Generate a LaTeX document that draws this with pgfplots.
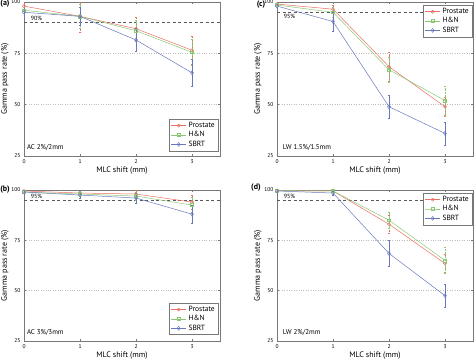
\documentclass[border=0pt]{standalone}
\usepackage{fontspec}
\setmainfont{PT Sans}
\usepackage{pgfplots}
\pgfplotsset{compat=1.18}
\definecolor{cPro}{RGB}{232,112,100}
\definecolor{cHN}{RGB}{140,200,115}
\definecolor{cSB}{RGB}{105,120,190}
\definecolor{frame}{RGB}{120,120,120}
\pgfplotsset{
  panel/.style={
    scale only axis, width=196pt, height=154pt,
    xmin=0, xmax=3.5, ymin=25, ymax=100,
    xtick={0,1,2,3}, ytick={25,50,75,100},
    axis line style={frame, line width=0.5pt},
    tick style={frame, line width=0.4pt},
    major tick length=2pt,
    ymajorgrids, grid style={dotted, gray!50, line width=0.4pt},
    tick label style={font=\fontsize{5.5}{6}\selectfont},
    /pgf/number format/assume math mode=true,
    xlabel={MLC shift (mm)}, ylabel={Gamma pass rate (\%)},
    label style={font=\fontsize{8}{9}\selectfont},
    xlabel style={yshift=4pt},
    ylabel style={yshift=-4pt},
    legend style={font=\fontsize{7.5}{8.5}\selectfont, draw=frame, line width=0.5pt,
      inner sep=1pt, row sep=-1.5pt, cells={anchor=west}},
    legend cell align=left,
    legend image code/.code={
      \draw[mark repeat=2,mark phase=2] plot coordinates {(0cm,0cm)(0.27cm,0cm)(0.54cm,0cm)};},
    every axis plot/.append style={line width=0.5pt, mark size=1.6pt, mark options={solid, line width=0.45pt}},
  },
  pro/.style={color=cPro, mark=o, error bars/.cd, y dir=both, y explicit,
     error bar style={cPro, line width=0.4pt, densely dotted}, error mark options={cPro, mark size=1.3pt, rotate=90, solid}},
  hn/.style={color=cHN, mark=square, mark size=1.4pt, error bars/.cd, y dir=both, y explicit,
     error bar style={cHN, line width=0.4pt, densely dotted}, error mark options={cHN, mark size=1.3pt, rotate=90, solid}},
  sb/.style={color=cSB, mark=diamond, mark size=2pt, error bars/.cd, y dir=both, y explicit,
     error bar style={cSB, line width=0.4pt}, error mark options={cSB, mark size=1.3pt, rotate=90, solid}},
}
\begin{document}
\begin{tikzpicture}
\path[use as bounding box] (0,0) rectangle (474pt,-362pt);
% ---------------- (a)
\begin{axis}[panel, name=A, at={(24pt,-2pt)}, anchor=north west,
  legend style={at={(0.99,0.032)}, anchor=south east}]
\addplot[black!65, dashed, line width=0.5pt, forget plot, dash pattern=on 3pt off 2.5pt] coordinates {(0,90) (3.5,90)};
\addplot[pro] coordinates {(0,98) +- (0,1.5) (1,93) +- (0,7.5) (2,87) +- (0,5.5) (3,76.5) +- (0,7)};
\addplot[hn] coordinates {(0,96) +- (0,2) (1,93) +- (0,6) (2,86) +- (0,5) (3,75.5) +- (0,6.5)};
\addplot[sb] coordinates {(0,95) +- (0,2.5) (1,93) +- (0,4.5) (2,81.5) +- (0,5.5) (3,65.5) +- (0,6.5)};
\legend{Prostate, H\&N, SBRT}
\node[anchor=south west, font=\fontsize{6}{7}\selectfont, inner sep=1pt] at (axis cs:0.1,90.3) {90\%};
\node[anchor=west, font=\fontsize{7}{8}\selectfont, inner sep=0pt] at (axis cs:0.05,29) {AC 2\%/2mm};
\end{axis}
\node[font=\bfseries\fontsize{8}{9}\selectfont] at ([xshift=-19pt,yshift=-2pt]A.north west) {(a)};
% ---------------- (c)
\begin{axis}[panel, name=C, at={(277pt,-2pt)}, anchor=north west,
  legend style={at={(0.995,0.98)}, anchor=north east}]
\addplot[black!65, dashed, line width=0.5pt, forget plot, dash pattern=on 3pt off 2.5pt] coordinates {(0,95) (3.5,95)};
\addplot[pro] coordinates {(0,99) +- (0,1) (1,96.5) +- (0,2) (2,68.5) +- (0,7) (3,49) +- (0,4.5)};
\addplot[hn] coordinates {(0,98.5) +- (0,1) (1,95) +- (0,2.5) (2,67) +- (0,6) (3,52) +- (0,7)};
\addplot[sb] coordinates {(0,98) +- (0,1.5) (1,90.5) +- (0,4.5) (2,49) +- (0,5.5) (3,36) +- (0,5.5)};
\legend{Prostate, H\&N, SBRT}
\node[anchor=north west, font=\fontsize{6}{7}\selectfont, inner sep=1pt] at (axis cs:0.1,94.5) {95\%};
\node[anchor=west, font=\fontsize{7}{8}\selectfont, inner sep=0pt] at (axis cs:0.1,29) {LW 1.5\%/1.5mm};
\end{axis}
\node[font=\bfseries\fontsize{8}{9}\selectfont] at ([xshift=-16pt,yshift=-3pt]C.north west) {(c)};
% ---------------- (b)
\begin{axis}[panel, name=B, at={(24pt,-190pt)}, anchor=north west, height=151pt,
  legend style={at={(0.99,0.04)}, anchor=south east}]
\addplot[black!65, dashed, line width=0.5pt, forget plot, dash pattern=on 3pt off 2.5pt] coordinates {(0,95) (3.5,95)};
\addplot[pro] coordinates {(0,99.5) +- (0,0.5) (1,98.5) +- (0,1) (2,98) +- (0,2) (3,94) +- (0,3.5)};
\addplot[hn] coordinates {(0,99) +- (0,0.7) (1,98) +- (0,1.2) (2,97) +- (0,2) (3,92.5) +- (0,4)};
\addplot[sb] coordinates {(0,99) +- (0,1) (1,97.5) +- (0,1.5) (2,96) +- (0,2.5) (3,88) +- (0,4.5)};
\legend{Prostate, H\&N, SBRT}
\node[anchor=south west, font=\fontsize{6}{7}\selectfont, inner sep=1pt] at (axis cs:0.1,95.3) {95\%};
\node[anchor=west, font=\fontsize{7}{8}\selectfont, inner sep=0pt] at (axis cs:0.05,29) {AC 3\%/3mm};
\end{axis}
\node[font=\bfseries\fontsize{8}{9}\selectfont] at ([xshift=-19pt,yshift=0pt]B.north west) {(b)};
% ---------------- (d)
\begin{axis}[panel, name=D, at={(277pt,-190pt)}, anchor=north west, height=151pt,
  legend style={at={(0.995,0.98)}, anchor=north east}]
\addplot[black!65, dashed, line width=0.5pt, forget plot, dash pattern=on 3pt off 2.5pt] coordinates {(0,95) (3.5,95)};
\addplot[pro] coordinates {(0,99.7) +- (0,0.3) (1,99.5) +- (0,0.5) (2,83) +- (0,4.5) (3,63.5) +- (0,4.5)};
\addplot[hn] coordinates {(0,99.7) +- (0,0.3) (1,99.5) +- (0,0.5) (2,85) +- (0,4) (3,65) +- (0,6.5)};
\addplot[sb] coordinates {(0,99.5) +- (0,0.5) (1,98.5) +- (0,1) (2,68.5) +- (0,6.5) (3,47.5) +- (0,5.5)};
\legend{Prostate, H\&N, SBRT}
\node[anchor=south west, font=\fontsize{6}{7}\selectfont, inner sep=1pt] at (axis cs:0.1,95.3) {95\%};
\node[anchor=west, font=\fontsize{7}{8}\selectfont, inner sep=0pt] at (axis cs:0.1,29) {LW 2\%/2mm};
\end{axis}
\node[font=\bfseries\fontsize{8}{9}\selectfont] at ([xshift=-21pt,yshift=2pt]D.north west) {(d)};
\end{tikzpicture}
\end{document}
